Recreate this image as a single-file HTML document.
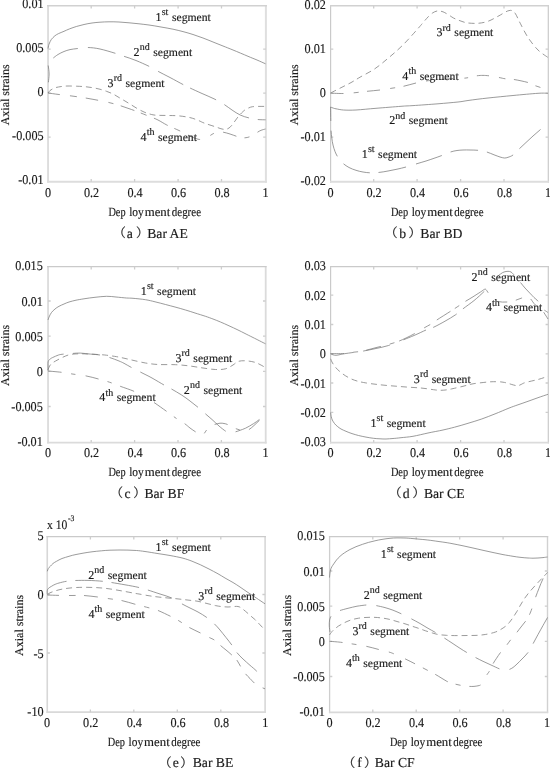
<!DOCTYPE html>
<html><head><meta charset="utf-8"><title>Axial strains</title>
<style>
html,body{margin:0;padding:0;background:#fff;}
svg{display:block;}
text{text-rendering:geometricPrecision;font-family:"Liberation Serif","Noto Serif CJK SC",serif;fill:#1a1a1a;stroke:#1a1a1a;stroke-width:0.15px;}
.t{font-size:12px;}
.n{font-size:13.4px;}
.s{font-size:10px;}
.c{font-size:13.7px;}
.k{font-size:12.5px;}
.e{font-size:8.5px;}
.g{font-size:11.7px;}
.ax{stroke:#b4b4b4;stroke-width:1;fill:none;}
.cv{stroke:#7a7a7a;stroke-width:0.75;fill:none;}
</style></head><body>
<svg width="550" height="768" viewBox="0 0 550 768">
<rect width="550" height="768" fill="#fff"/>
<g>
<path d="M48.05 5.00V182.75" stroke="#dddddd" stroke-width="1.9" fill="none"/>
<path d="M265.90 5.00V182.75" stroke="#dfdfdf" stroke-width="2.0" fill="none"/>
<path d="M47.10 5.70H266.90" stroke="#d1d1d1" stroke-width="1.4" fill="none"/>
<path d="M47.10 181.80H266.90" stroke="#dddddd" stroke-width="1.9" fill="none"/>
<path d="M91.2 181.8v-2.7M91.2 5.7v2.7M134.6 181.8v-2.7M134.6 5.7v2.7M178.1 181.8v-2.7M178.1 5.7v2.7M221.5 181.8v-2.7M221.5 5.7v2.7M48.0 49.1h2.7M265.9 49.1h-2.7M48.0 93.1h2.7M265.9 93.1h-2.7M48.0 137.1h2.7M265.9 137.1h-2.7" stroke="#cdcdcd" stroke-width="1.3" fill="none"/>
<text class="n" transform="translate(43.6 8.3) scale(.91 1)" text-anchor="end">0.01</text>
<text class="n" transform="translate(43.6 52.3) scale(.91 1)" text-anchor="end">0.005</text>
<text class="n" transform="translate(43.6 96.3) scale(.91 1)" text-anchor="end">0</text>
<text class="n" transform="translate(43.6 140.3) scale(.91 1)" text-anchor="end">-0.005</text>
<text class="n" transform="translate(43.6 184.3) scale(.91 1)" text-anchor="end">-0.01</text>
<text class="n" transform="translate(48.0 196.6) scale(.91 1)" text-anchor="middle">0</text>
<text class="n" transform="translate(91.5 196.6) scale(.91 1)" text-anchor="middle">0.2</text>
<text class="n" transform="translate(135.0 196.6) scale(.91 1)" text-anchor="middle">0.4</text>
<text class="n" transform="translate(178.6 196.6) scale(.91 1)" text-anchor="middle">0.6</text>
<text class="n" transform="translate(222.1 196.6) scale(.91 1)" text-anchor="middle">0.8</text>
<text class="n" transform="translate(265.6 196.6) scale(.91 1)" text-anchor="middle">1</text>
<text style="font-size:12.6px" y="215.8"><tspan x="108.4" textLength="17.2" lengthAdjust="spacingAndGlyphs">Dep</tspan><tspan x="129.2" textLength="14.6" lengthAdjust="spacingAndGlyphs">loy</tspan><tspan x="144.7" textLength="25.6" lengthAdjust="spacingAndGlyphs">ment</tspan><tspan x="171.8" textLength="29.2" lengthAdjust="spacingAndGlyphs">degree</tspan></text>
<text class="t" transform="translate(8.8 94.8) rotate(-90)" text-anchor="middle">Axial strains</text>
<text y="237.5"><tspan class="k" x="113.3" dy="-0.6">（</tspan><tspan class="c" x="126.7" dy="0.6">a</tspan><tspan class="k" x="136.0" dy="-0.6">）</tspan><tspan class="c" x="147.2" dy="0.6">Bar AE</tspan></text>
<path class="cv" d="M48.0 48.5C48.1 48.0 48.4 46.4 48.6 45.5C48.9 44.6 49.0 44.0 49.5 43.0C50.0 42.0 50.4 40.7 51.3 39.5C52.2 38.3 53.7 36.8 54.9 35.8C56.1 34.8 57.0 34.4 58.5 33.6C60.0 32.9 62.2 32.1 64.0 31.3C65.8 30.5 67.4 29.7 69.5 28.9C71.6 28.1 74.3 27.1 76.7 26.4C79.1 25.7 81.5 25.1 84.0 24.5C86.5 23.9 89.3 23.4 92.0 23.0C94.7 22.6 97.2 22.4 100.0 22.2C102.8 22.0 105.8 21.8 109.0 21.8C112.2 21.8 115.7 21.8 119.0 22.0C122.3 22.2 125.7 22.5 129.0 22.8C132.3 23.1 135.7 23.4 139.0 23.8C142.3 24.2 145.3 24.5 149.0 25.0C152.7 25.5 157.0 26.3 161.0 27.0C165.0 27.7 169.3 28.4 173.0 29.2C176.7 30.0 179.7 30.7 183.0 31.6C186.3 32.5 189.7 33.4 193.0 34.5C196.3 35.6 199.7 36.8 203.0 38.0C206.3 39.2 209.7 40.7 213.0 42.0C216.3 43.3 219.7 44.7 223.0 46.0C226.3 47.3 228.8 48.3 233.0 50.0C237.2 51.7 244.0 54.6 248.0 56.3C252.0 58.0 254.1 58.8 257.0 60.0C259.9 61.2 264.1 63.2 265.5 63.8"/>
<path class="cv" d="M48.4 82.3C48.5 80.9 49.1 76.8 49.1 74.0C49.1 71.2 48.4 66.9 48.2 65.5"/>
<path class="cv" d="M53.3 58.0C54.1 57.4 56.2 55.6 58.0 54.5C59.8 53.4 62.0 52.3 64.0 51.5C66.0 50.7 67.7 50.1 70.0 49.6C72.3 49.1 74.8 48.9 77.8 48.5C80.8 48.1 84.1 47.4 87.8 47.5C91.5 47.6 95.4 48.0 100.0 49.0C104.6 50.0 111.3 52.1 115.3 53.3C119.3 54.5 120.5 55.1 124.0 56.3C127.5 57.5 131.8 58.8 136.0 60.5C140.2 62.2 145.3 64.5 149.0 66.3C152.7 68.1 154.5 69.4 158.0 71.3C161.5 73.2 165.8 75.3 170.0 77.5C174.2 79.7 179.7 82.8 183.0 84.5C186.3 86.2 186.8 86.5 190.0 88.0C193.2 89.5 198.0 91.7 202.0 93.5C206.0 95.3 210.3 97.0 214.0 98.8C217.7 100.6 221.2 102.6 224.2 104.5C227.2 106.4 229.3 108.2 232.0 110.0C234.7 111.8 237.4 113.7 240.2 115.0C243.0 116.3 246.0 117.2 248.9 117.9C251.8 118.7 254.8 119.2 257.6 119.5C260.4 119.8 264.3 119.8 265.6 119.8" stroke-dasharray="26.8 10.1 28.2 9.2 27.0 10.3 28.3 7.8 28.4 9.6 28.3 8.9 8.0 999.0" stroke-dashoffset="0"/>
<path class="cv" d="M48.0 93.0C48.3 92.6 49.2 91.2 50.0 90.5C50.8 89.8 51.8 89.3 52.8 88.8C53.8 88.3 54.5 87.9 56.0 87.5C57.5 87.1 59.5 86.8 61.5 86.5C63.5 86.2 65.5 86.0 68.0 86.0C70.5 86.0 73.8 86.1 76.5 86.2C79.2 86.3 81.5 86.4 84.0 86.6C86.5 86.8 89.0 87.1 91.5 87.5C94.0 87.9 96.5 88.4 99.0 89.0C101.5 89.6 104.2 90.5 106.5 91.3C108.8 92.1 110.9 93.0 113.0 94.0C115.1 95.0 117.0 96.3 119.0 97.5C121.0 98.7 122.9 99.8 125.0 101.0C127.1 102.2 129.3 103.7 131.5 105.0C133.7 106.3 135.9 107.8 138.0 109.0C140.1 110.2 142.2 111.2 144.0 112.0C145.8 112.8 147.3 113.3 149.0 113.8C150.7 114.3 152.0 114.7 154.0 115.0C156.0 115.3 158.5 115.3 161.0 115.4C163.5 115.5 166.2 115.4 169.0 115.5C171.8 115.6 174.5 115.5 178.0 115.8C181.5 116.1 186.7 116.8 190.0 117.6C193.3 118.3 195.6 119.4 198.0 120.3C200.4 121.2 201.5 122.1 204.5 123.2C207.5 124.3 213.1 126.0 216.0 127.0C218.9 128.0 220.3 128.6 222.0 129.0C223.7 129.4 224.8 129.5 226.0 129.3C227.2 129.1 228.0 128.7 229.0 128.0C230.0 127.3 231.2 126.1 232.2 124.9C233.2 123.7 234.0 122.3 235.0 121.0C236.0 119.7 236.9 118.2 238.0 116.9C239.1 115.6 240.3 114.2 241.5 113.0C242.7 111.8 244.1 110.5 245.3 109.6C246.6 108.7 247.8 108.3 249.0 107.8C250.2 107.3 251.0 106.9 252.5 106.7C254.0 106.5 255.8 106.5 258.0 106.4C260.2 106.4 264.3 106.4 265.6 106.4" stroke-dasharray="6 4" stroke-dashoffset="0"/>
<path class="cv" d="M48.0 93.0C49.8 93.2 54.7 94.0 59.0 94.5C63.3 95.0 68.2 95.5 74.0 96.3C79.8 97.1 87.3 98.2 94.0 99.5C100.7 100.8 107.8 102.1 114.0 103.8C120.2 105.5 125.7 107.4 131.5 109.5C137.3 111.6 144.6 114.5 149.0 116.3C153.4 118.0 155.0 118.5 158.0 120.0C161.0 121.5 163.3 123.2 166.8 125.0C170.3 126.8 175.8 129.0 179.0 130.5C182.2 132.0 183.8 132.9 186.0 134.0C188.2 135.1 190.0 136.1 192.0 137.0C194.0 137.9 196.3 138.8 198.0 139.2C199.7 139.6 200.7 139.5 202.0 139.3C203.3 139.1 204.6 138.7 206.0 138.0C207.4 137.3 209.1 136.2 210.4 135.4C211.7 134.6 212.6 133.9 214.0 133.3C215.4 132.7 217.5 132.2 219.0 132.0C220.5 131.8 221.4 131.9 223.2 132.2C225.0 132.5 227.8 133.3 230.0 134.0C232.2 134.7 234.7 135.7 236.5 136.3C238.3 136.9 239.6 137.2 241.0 137.5C242.4 137.8 243.6 137.9 245.0 137.8C246.4 137.7 248.1 137.4 249.6 136.8C251.1 136.2 252.7 135.3 254.0 134.5C255.3 133.7 256.4 132.9 257.6 132.2C258.8 131.5 259.7 130.8 261.0 130.3C262.3 129.8 264.8 129.2 265.6 129.0" stroke-dasharray="12.0 10.3 7.0 8.8 12.5 10.4 5.3 7.5 14.7 6.7 6.2 8.0 15.7 7.0 6.4 8.8 12.9 11.2 4.2 9.4 13.9 8.3 5.1 9.2 8.7 999.0" stroke-dashoffset="0"/>
<text class="t" x="155.6" y="21.0">1<tspan class="s" dx="0.1" dy="-5.7">st</tspan><tspan class="g" dx="0.6" dy="5.7"> segment</tspan></text>
<text class="t" x="133.6" y="56.0">2<tspan class="s" dx="0.1" dy="-5.7">nd</tspan><tspan class="g" dx="0.6" dy="5.7"> segment</tspan></text>
<text class="t" x="107.6" y="87.0">3<tspan class="s" dx="0.1" dy="-5.7">rd</tspan><tspan class="g" dx="0.6" dy="5.7"> segment</tspan></text>
<text class="t" x="140.6" y="141.0">4<tspan class="s" dx="0.1" dy="-5.7">th</tspan><tspan class="g" dx="0.6" dy="5.7"> segment</tspan></text>
</g>
<g>
<path d="M330.60 5.00V182.75" stroke="#cacaca" stroke-width="1.2" fill="none"/>
<path d="M548.30 5.00V182.75" stroke="#cacaca" stroke-width="1.2" fill="none"/>
<path d="M330.00 5.70H548.90" stroke="#d1d1d1" stroke-width="1.4" fill="none"/>
<path d="M330.00 181.80H548.90" stroke="#dddddd" stroke-width="1.9" fill="none"/>
<path d="M373.7 181.8v-2.7M373.7 5.7v2.7M417.1 181.8v-2.7M417.1 5.7v2.7M460.6 181.8v-2.7M460.6 5.7v2.7M504.0 181.8v-2.7M504.0 5.7v2.7M330.6 49.1h2.7M548.3 49.1h-2.7M330.6 93.1h2.7M548.3 93.1h-2.7M330.6 137.1h2.7M548.3 137.1h-2.7" stroke="#cdcdcd" stroke-width="1.3" fill="none"/>
<text class="n" transform="translate(325.9 8.6) scale(.91 1)" text-anchor="end">0.02</text>
<text class="n" transform="translate(325.9 52.6) scale(.91 1)" text-anchor="end">0.01</text>
<text class="n" transform="translate(325.9 96.6) scale(.91 1)" text-anchor="end">0</text>
<text class="n" transform="translate(325.9 140.6) scale(.91 1)" text-anchor="end">-0.01</text>
<text class="n" transform="translate(325.9 184.6) scale(.91 1)" text-anchor="end">-0.02</text>
<text class="n" transform="translate(330.6 196.6) scale(.91 1)" text-anchor="middle">0</text>
<text class="n" transform="translate(374.1 196.6) scale(.91 1)" text-anchor="middle">0.2</text>
<text class="n" transform="translate(417.6 196.6) scale(.91 1)" text-anchor="middle">0.4</text>
<text class="n" transform="translate(461.0 196.6) scale(.91 1)" text-anchor="middle">0.6</text>
<text class="n" transform="translate(504.5 196.6) scale(.91 1)" text-anchor="middle">0.8</text>
<text class="n" transform="translate(548.0 196.6) scale(.91 1)" text-anchor="middle">1</text>
<text style="font-size:12.6px" y="215.8"><tspan x="390.9" textLength="17.2" lengthAdjust="spacingAndGlyphs">Dep</tspan><tspan x="411.7" textLength="14.6" lengthAdjust="spacingAndGlyphs">loy</tspan><tspan x="427.2" textLength="25.6" lengthAdjust="spacingAndGlyphs">ment</tspan><tspan x="454.3" textLength="29.2" lengthAdjust="spacingAndGlyphs">degree</tspan></text>
<text class="t" transform="translate(297.8 94.8) rotate(-90)" text-anchor="middle">Axial strains</text>
<text y="237.5"><tspan class="k" x="385.1" dy="-0.6">（</tspan><tspan class="c" x="399.3" dy="0.6">b</tspan><tspan class="k" x="408.5" dy="-0.6">）</tspan><tspan class="c" x="420.3" dy="0.6">Bar BD</tspan></text>
<path class="cv" d="M330.6 107.0C331.0 107.2 332.1 107.7 333.0 108.0C333.9 108.3 334.2 108.5 336.0 108.8C337.8 109.1 340.2 109.8 343.5 110.0C346.8 110.2 350.6 110.3 356.0 110.0C361.4 109.7 368.5 108.9 376.0 108.3C383.5 107.7 394.8 106.8 401.0 106.3C407.2 105.8 406.8 106.0 413.0 105.6C419.2 105.2 430.5 104.4 438.0 103.8C445.5 103.2 453.0 102.5 458.0 102.0C463.0 101.5 463.0 101.2 468.0 100.5C473.0 99.8 480.5 98.8 488.0 98.0C495.5 97.2 504.7 96.3 513.0 95.5C521.3 94.7 532.2 93.7 538.0 93.3C543.8 92.9 546.3 93.3 548.0 93.3"/>
<path class="cv" d="M330.6 107.0C330.6 108.2 330.7 111.7 330.7 114.0C330.7 116.3 330.8 118.3 330.8 121.0C330.9 123.7 330.8 127.2 331.0 130.0C331.2 132.8 331.5 135.5 331.8 138.0C332.1 140.5 332.5 142.8 333.0 145.0C333.5 147.2 334.3 149.6 335.0 151.5C335.7 153.4 336.5 154.8 337.3 156.3C338.1 157.8 339.0 159.2 340.0 160.5C341.0 161.8 342.0 162.6 343.5 163.8C345.0 165.0 346.9 166.4 349.0 167.5C351.1 168.6 353.7 169.6 356.0 170.3C358.3 171.1 360.7 171.6 363.0 172.0C365.3 172.4 367.2 172.7 369.8 172.8C372.4 172.9 375.5 172.8 378.5 172.5C381.5 172.2 384.9 171.6 388.0 171.0C391.1 170.4 394.0 169.9 397.0 169.2C400.0 168.5 402.8 167.9 406.0 167.0C409.2 166.1 412.7 165.0 416.0 164.0C419.3 163.0 423.0 161.9 426.0 161.0C429.0 160.1 431.4 159.2 434.0 158.3C436.6 157.4 439.1 156.6 441.8 155.5C444.6 154.4 448.0 152.8 450.5 152.0C453.0 151.2 454.9 150.8 457.0 150.5C459.1 150.2 460.8 150.1 463.0 150.0C465.2 149.9 467.5 149.9 470.0 150.0C472.5 150.1 475.2 150.0 478.0 150.3C480.8 150.6 484.1 151.2 486.8 152.0C489.5 152.8 491.8 154.0 494.0 154.8C496.2 155.6 498.3 156.5 500.0 157.0C501.7 157.5 503.0 157.9 504.3 158.0C505.6 158.1 506.6 157.8 508.0 157.3C509.4 156.8 511.1 156.4 513.0 155.0C514.9 153.6 517.1 150.9 519.3 148.8C521.5 146.7 523.7 144.6 526.0 142.5C528.3 140.4 530.6 138.2 533.0 136.0C535.4 133.8 538.0 131.7 540.5 129.5C543.0 127.3 546.8 124.1 548.0 123.0" stroke-dasharray="14.0 9.6 26.7 9.8 28.2 8.7 28.1 10.4 27.2 9.4 27.7 9.0 27.9 8.8 28.7 999.0" stroke-dashoffset="0"/>
<path class="cv" d="M330.6 93.0C332.3 92.1 337.6 89.4 341.0 87.7C344.4 86.0 347.8 84.3 351.0 82.6C354.2 80.8 356.1 79.5 360.0 77.2C363.9 74.9 369.6 72.3 374.5 69.0C379.4 65.7 384.2 61.5 389.1 57.4C394.0 53.3 398.8 49.1 403.6 44.3C408.5 39.4 414.8 32.1 418.2 28.3C421.6 24.5 422.3 23.4 424.0 21.5C425.7 19.6 427.0 18.0 428.4 16.6C429.8 15.2 431.2 13.9 432.5 13.0C433.8 12.1 435.0 11.6 436.0 11.3C437.0 11.0 437.3 10.9 438.5 11.0C439.7 11.1 441.4 11.2 443.0 11.8C444.6 12.4 446.2 13.5 448.0 14.5C449.8 15.5 451.8 17.1 453.5 18.0C455.2 18.9 456.4 19.4 458.0 20.0C459.6 20.6 461.3 21.3 463.0 21.8C464.7 22.3 465.5 22.8 468.0 23.0C470.5 23.2 474.7 23.6 478.0 23.3C481.3 23.0 484.7 22.5 488.0 21.3C491.3 20.1 495.1 17.9 498.0 16.3C500.9 14.8 503.7 12.9 505.5 12.0C507.3 11.1 507.9 10.8 509.0 10.6C510.1 10.4 510.9 10.1 512.0 10.6C513.1 11.1 514.1 11.6 515.5 13.8C516.9 16.0 518.4 19.9 520.5 23.8C522.6 27.8 525.1 33.1 528.0 37.5C530.9 41.9 534.7 46.7 538.0 50.0C541.3 53.3 546.3 56.2 548.0 57.5" stroke-dasharray="6 4" stroke-dashoffset="0"/>
<path class="cv" d="M330.6 93.2C332.8 93.2 339.3 93.6 343.5 93.5C347.7 93.4 352.1 93.0 356.0 92.6C359.9 92.2 363.0 91.7 367.0 91.3C371.0 90.9 375.8 90.5 380.0 90.0C384.2 89.5 388.1 88.8 392.0 88.2C395.9 87.6 399.5 87.2 403.5 86.3C407.5 85.4 412.2 83.9 416.0 83.0C419.8 82.1 422.0 81.6 426.0 81.0C430.0 80.4 435.7 79.9 440.0 79.5C444.3 79.1 447.7 78.8 452.0 78.6C456.3 78.3 461.9 78.5 466.0 78.0C470.1 77.5 474.0 76.2 476.8 75.8C479.6 75.4 481.0 75.4 483.0 75.4C485.0 75.4 486.3 75.5 489.0 75.8C491.7 76.1 496.2 77.0 499.0 77.5C501.8 78.0 503.0 78.5 505.5 78.8C508.0 79.1 510.2 78.9 514.0 79.5C517.8 80.1 524.4 81.5 528.0 82.5C531.6 83.5 533.4 85.0 535.5 85.8C537.6 86.6 538.4 86.6 540.5 87.5C542.6 88.4 546.8 90.4 548.0 91.0" stroke-dasharray="12.9 10.1 5.1 8.4 13.1 10.2 5.1 8.5 12.9 10.2 5.4 8.6 13.4 11.0 3.8 9.0 12.2 10.1 6.6 8.5 14.3 8.2 5.3 999.0" stroke-dashoffset="0"/>
<text class="t" x="436.4" y="36.3">3<tspan class="s" dx="0.1" dy="-5.7">rd</tspan><tspan class="g" dx="0.6" dy="5.7"> segment</tspan></text>
<text class="t" x="402.3" y="79.5">4<tspan class="s" dx="0.1" dy="-5.7">th</tspan><tspan class="g" dx="0.6" dy="5.7"> segment</tspan></text>
<text class="t" x="389.2" y="124.3">2<tspan class="s" dx="0.1" dy="-5.7">nd</tspan><tspan class="g" dx="0.6" dy="5.7"> segment</tspan></text>
<text class="t" x="361.8" y="158.0">1<tspan class="s" dx="0.1" dy="-5.7">st</tspan><tspan class="g" dx="0.6" dy="5.7"> segment</tspan></text>
</g>
<g>
<path d="M48.05 266.10V443.55" stroke="#dddddd" stroke-width="1.9" fill="none"/>
<path d="M265.70 266.10V443.55" stroke="#dbdbdb" stroke-width="1.8" fill="none"/>
<path d="M47.10 266.70H266.60" stroke="#cacaca" stroke-width="1.2" fill="none"/>
<path d="M47.10 442.65H266.60" stroke="#dbdbdb" stroke-width="1.8" fill="none"/>
<path d="M91.2 442.6v-2.7M91.2 266.7v2.7M134.6 442.6v-2.7M134.6 266.7v2.7M178.0 442.6v-2.7M178.0 266.7v2.7M221.4 442.6v-2.7M221.4 266.7v2.7M48.0 301.0h2.7M265.7 301.0h-2.7M48.0 336.2h2.7M265.7 336.2h-2.7M48.0 371.3h2.7M265.7 371.3h-2.7M48.0 406.5h2.7M265.7 406.5h-2.7" stroke="#cdcdcd" stroke-width="1.3" fill="none"/>
<text class="n" transform="translate(42.8 270.4) scale(.91 1)" text-anchor="end">0.015</text>
<text class="n" transform="translate(42.8 305.5) scale(.91 1)" text-anchor="end">0.01</text>
<text class="n" transform="translate(42.8 340.7) scale(.91 1)" text-anchor="end">0.005</text>
<text class="n" transform="translate(42.8 375.8) scale(.91 1)" text-anchor="end">0</text>
<text class="n" transform="translate(42.8 411.0) scale(.91 1)" text-anchor="end">-0.005</text>
<text class="n" transform="translate(42.8 446.1) scale(.91 1)" text-anchor="end">-0.01</text>
<text class="n" transform="translate(48.0 457.1) scale(.91 1)" text-anchor="middle">0</text>
<text class="n" transform="translate(91.5 457.1) scale(.91 1)" text-anchor="middle">0.2</text>
<text class="n" transform="translate(135.0 457.1) scale(.91 1)" text-anchor="middle">0.4</text>
<text class="n" transform="translate(178.6 457.1) scale(.91 1)" text-anchor="middle">0.6</text>
<text class="n" transform="translate(222.1 457.1) scale(.91 1)" text-anchor="middle">0.8</text>
<text class="n" transform="translate(265.6 457.1) scale(.91 1)" text-anchor="middle">1</text>
<text style="font-size:12.6px" y="476.3"><tspan x="108.4" textLength="17.2" lengthAdjust="spacingAndGlyphs">Dep</tspan><tspan x="129.2" textLength="14.6" lengthAdjust="spacingAndGlyphs">loy</tspan><tspan x="144.7" textLength="25.6" lengthAdjust="spacingAndGlyphs">ment</tspan><tspan x="171.8" textLength="29.2" lengthAdjust="spacingAndGlyphs">degree</tspan></text>
<text class="t" transform="translate(8.8 355.4) rotate(-90)" text-anchor="middle">Axial strains</text>
<text y="498.0"><tspan class="k" x="110.6" dy="-0.6">（</tspan><tspan class="c" x="124.5" dy="0.6">c</tspan><tspan class="k" x="133.2" dy="-0.6">）</tspan><tspan class="c" x="144.4" dy="0.6">Bar BF</tspan></text>
<path class="cv" d="M48.0 320.0C48.2 319.3 48.9 317.2 49.5 316.0C50.1 314.8 50.6 313.7 51.5 312.5C52.4 311.3 53.8 310.0 55.0 309.0C56.2 308.0 57.5 307.1 59.0 306.3C60.5 305.5 62.3 304.7 64.0 304.0C65.7 303.3 67.0 302.6 69.0 302.0C71.0 301.4 73.5 300.7 76.0 300.2C78.5 299.7 80.8 299.3 84.0 298.8C87.2 298.3 91.2 297.7 95.0 297.3C98.8 296.9 103.0 296.4 106.5 296.3C110.0 296.2 112.7 296.7 116.0 297.0C119.3 297.3 123.7 297.8 126.5 298.0C129.3 298.2 129.8 298.0 133.0 298.3C136.2 298.6 141.8 299.1 145.5 299.7C149.2 300.3 151.7 301.0 155.0 301.8C158.3 302.6 162.2 303.6 165.5 304.5C168.8 305.4 171.7 306.1 175.0 307.0C178.3 307.9 182.2 309.0 185.5 310.0C188.8 311.0 191.7 311.9 195.0 313.0C198.3 314.1 202.5 315.3 205.5 316.3C208.5 317.3 210.5 318.1 213.0 319.0C215.5 319.9 217.8 320.9 220.5 322.0C223.2 323.1 226.1 324.5 229.0 325.8C231.9 327.1 235.3 328.7 238.0 330.0C240.7 331.3 242.5 332.2 245.0 333.5C247.5 334.8 249.6 335.8 253.0 337.5C256.4 339.2 263.4 342.8 265.5 343.8"/>
<path class="cv" d="M48.0 370.5C48.0 369.8 48.0 367.4 48.0 366.0C48.0 364.6 47.8 362.9 48.1 361.8C48.4 360.7 49.0 360.0 49.8 359.3C50.6 358.6 51.2 358.2 52.7 357.5C54.2 356.8 56.7 355.6 58.5 355.0C60.3 354.4 61.2 354.4 63.6 354.1C66.0 353.8 70.2 353.6 73.0 353.4C75.8 353.2 77.5 353.0 80.4 353.1C83.3 353.2 87.2 353.8 90.5 354.1C93.8 354.4 96.8 354.4 100.0 355.0C103.2 355.6 106.3 356.5 109.5 357.5C112.7 358.5 116.6 360.0 119.0 361.0C121.4 362.0 121.9 362.2 124.0 363.3C126.1 364.4 128.8 366.1 131.5 367.5C134.2 368.9 136.9 370.2 140.3 372.0C143.7 373.8 148.1 375.8 152.0 378.0C155.9 380.2 160.8 383.2 164.0 385.0C167.2 386.8 168.6 387.3 171.5 389.0C174.4 390.7 178.5 393.0 181.6 395.0C184.7 397.0 187.3 398.9 190.0 401.0C192.7 403.1 195.4 405.2 198.0 407.3C200.6 409.4 203.1 411.8 205.4 413.8C207.7 415.8 209.7 417.5 212.0 419.5C214.3 421.5 216.7 424.0 219.0 426.0C221.3 428.0 224.0 430.1 225.8 431.3C227.6 432.5 228.4 432.9 230.0 433.0C231.6 433.1 233.9 432.2 235.6 431.8C237.3 431.4 238.3 430.9 240.0 430.3C241.7 429.7 243.2 429.3 245.5 428.2C247.8 427.1 251.3 425.1 253.6 423.6C255.9 422.2 257.4 421.0 259.4 419.5C261.4 418.0 264.5 415.3 265.5 414.5" stroke-dasharray="26.7 9.4 27.1 9.8 24.2 9.9 27.0 8.5 32.3 9.8 26.9 10.3 27.0 999.0" stroke-dashoffset="0"/>
<path class="cv" d="M48.0 369.8C48.4 368.9 49.2 366.2 50.5 364.7C51.8 363.2 53.5 362.2 55.6 361.0C57.7 359.8 60.5 358.3 62.9 357.2C65.3 356.1 67.5 355.1 70.2 354.5C72.9 353.9 76.1 353.9 79.0 353.8C81.9 353.7 84.5 353.9 87.6 354.0C90.7 354.1 94.6 354.3 97.8 354.5C101.0 354.7 103.3 354.8 106.5 355.2C109.7 355.6 113.8 356.2 116.7 356.7C119.6 357.2 121.3 357.6 124.0 358.2C126.7 358.8 129.4 359.5 133.0 360.3C136.6 361.1 141.3 362.3 145.5 363.0C149.7 363.7 153.0 364.2 158.0 364.5C163.0 364.8 170.2 364.4 175.5 364.7C180.8 364.9 185.4 365.4 190.0 366.0C194.6 366.6 198.8 367.4 203.0 368.0C207.2 368.6 211.8 369.4 215.5 369.5C219.2 369.6 222.6 369.6 225.5 368.8C228.4 368.1 230.9 366.2 233.0 365.0C235.1 363.8 235.9 362.2 238.0 361.5C240.1 360.8 242.6 360.6 245.5 360.8C248.4 361.0 252.2 361.4 255.5 362.5C258.8 363.6 263.8 366.7 265.5 367.5" stroke-dasharray="6 4" stroke-dashoffset="0"/>
<path class="cv" d="M48.0 371.0C50.2 371.2 57.3 371.8 61.5 372.3C65.7 372.8 69.0 373.5 73.0 374.1C77.0 374.7 81.2 375.0 85.5 375.8C89.8 376.6 94.5 377.9 98.5 379.0C102.5 380.1 105.9 381.0 109.5 382.2C113.1 383.4 116.2 384.8 120.3 386.3C124.4 387.8 130.1 389.6 134.0 391.3C137.9 393.0 140.7 394.6 144.0 396.5C147.3 398.4 150.2 400.0 154.0 402.5C157.8 405.0 163.0 408.8 166.5 411.3C170.0 413.8 172.0 415.4 175.0 417.5C178.0 419.6 182.1 421.9 184.6 423.6C187.1 425.4 188.2 426.6 190.0 428.0C191.8 429.4 194.0 430.8 195.5 431.8C197.0 432.8 197.9 433.4 199.0 433.8C200.1 434.2 201.1 434.2 202.0 434.2C202.9 434.1 203.4 434.2 204.2 433.5C204.9 432.8 205.5 431.3 206.5 430.2C207.5 429.1 208.7 427.9 210.0 427.0C211.3 426.1 212.7 425.1 214.4 424.5C216.1 423.9 218.4 423.4 220.0 423.2C221.6 423.0 222.8 423.3 224.0 423.5C225.2 423.7 226.2 423.9 227.5 424.5C228.8 425.1 230.7 426.3 232.0 427.0C233.3 427.7 234.3 428.1 235.6 428.6C236.9 429.1 238.3 429.5 239.7 429.9C241.1 430.3 242.5 430.8 244.0 430.8C245.5 430.8 247.0 430.6 248.7 429.7C250.4 428.8 252.2 427.1 254.0 425.5C255.8 423.9 257.5 422.2 259.4 420.4C261.3 418.6 264.5 415.5 265.5 414.5" stroke-dasharray="13.6 9.7 4.4 10.2 13.4 9.2 4.5 8.9 15.0 9.0 4.5 9.4 15.3 9.1 3.3 9.5 13.7 9.5 4.0 9.8 13.4 9.1 4.3 9.3 14.2 999.0" stroke-dashoffset="0"/>
<text class="t" x="140.8" y="294.5">1<tspan class="s" dx="0.1" dy="-5.7">st</tspan><tspan class="g" dx="0.6" dy="5.7"> segment</tspan></text>
<text class="t" x="175.4" y="361.5">3<tspan class="s" dx="0.1" dy="-5.7">rd</tspan><tspan class="g" dx="0.6" dy="5.7"> segment</tspan></text>
<text class="t" x="183.8" y="393.5">2<tspan class="s" dx="0.1" dy="-5.7">nd</tspan><tspan class="g" dx="0.6" dy="5.7"> segment</tspan></text>
<text class="t" x="99.3" y="401.3">4<tspan class="s" dx="0.1" dy="-5.7">th</tspan><tspan class="g" dx="0.6" dy="5.7"> segment</tspan></text>
</g>
<g>
<path d="M330.60 266.10V443.55" stroke="#cacaca" stroke-width="1.2" fill="none"/>
<path d="M548.30 266.10V443.55" stroke="#cacaca" stroke-width="1.2" fill="none"/>
<path d="M330.00 266.70H548.90" stroke="#cacaca" stroke-width="1.2" fill="none"/>
<path d="M330.00 442.65H548.90" stroke="#dbdbdb" stroke-width="1.8" fill="none"/>
<path d="M373.7 442.6v-2.7M373.7 266.7v2.7M417.1 442.6v-2.7M417.1 266.7v2.7M460.6 442.6v-2.7M460.6 266.7v2.7M504.0 442.6v-2.7M504.0 266.7v2.7M330.6 295.2h2.7M548.3 295.2h-2.7M330.6 324.5h2.7M548.3 324.5h-2.7M330.6 353.8h2.7M548.3 353.8h-2.7M330.6 383.0h2.7M548.3 383.0h-2.7M330.6 412.3h2.7M548.3 412.3h-2.7" stroke="#cdcdcd" stroke-width="1.3" fill="none"/>
<text class="n" transform="translate(325.9 270.4) scale(.91 1)" text-anchor="end">0.03</text>
<text class="n" transform="translate(325.9 299.7) scale(.91 1)" text-anchor="end">0.02</text>
<text class="n" transform="translate(325.9 329.0) scale(.91 1)" text-anchor="end">0.01</text>
<text class="n" transform="translate(325.9 358.2) scale(.91 1)" text-anchor="end">0</text>
<text class="n" transform="translate(325.9 387.5) scale(.91 1)" text-anchor="end">-0.01</text>
<text class="n" transform="translate(325.9 416.8) scale(.91 1)" text-anchor="end">-0.02</text>
<text class="n" transform="translate(325.9 446.1) scale(.91 1)" text-anchor="end">-0.03</text>
<text class="n" transform="translate(330.6 457.1) scale(.91 1)" text-anchor="middle">0</text>
<text class="n" transform="translate(374.1 457.1) scale(.91 1)" text-anchor="middle">0.2</text>
<text class="n" transform="translate(417.6 457.1) scale(.91 1)" text-anchor="middle">0.4</text>
<text class="n" transform="translate(461.0 457.1) scale(.91 1)" text-anchor="middle">0.6</text>
<text class="n" transform="translate(504.5 457.1) scale(.91 1)" text-anchor="middle">0.8</text>
<text class="n" transform="translate(548.0 457.1) scale(.91 1)" text-anchor="middle">1</text>
<text style="font-size:12.6px" y="476.3"><tspan x="390.9" textLength="17.2" lengthAdjust="spacingAndGlyphs">Dep</tspan><tspan x="411.7" textLength="14.6" lengthAdjust="spacingAndGlyphs">loy</tspan><tspan x="427.2" textLength="25.6" lengthAdjust="spacingAndGlyphs">ment</tspan><tspan x="454.3" textLength="29.2" lengthAdjust="spacingAndGlyphs">degree</tspan></text>
<text class="t" transform="translate(297.8 355.4) rotate(-90)" text-anchor="middle">Axial strains</text>
<text y="498.0"><tspan class="k" x="389.0" dy="-0.6">（</tspan><tspan class="c" x="402.7" dy="0.6">d</tspan><tspan class="k" x="412.4" dy="-0.6">）</tspan><tspan class="c" x="423.9" dy="0.6">Bar CE</tspan></text>
<path class="cv" d="M330.6 412.5C330.7 413.2 330.9 415.2 331.2 416.5C331.5 417.8 331.8 418.8 332.3 420.0C332.9 421.2 333.7 422.4 334.5 423.5C335.3 424.6 336.2 425.4 337.3 426.3C338.4 427.2 339.6 428.2 341.0 429.0C342.4 429.8 344.2 430.5 346.0 431.3C347.8 432.1 349.9 432.9 352.0 433.6C354.1 434.3 356.2 434.9 358.5 435.5C360.8 436.1 363.5 436.6 366.0 437.1C368.5 437.6 371.2 438.0 373.5 438.3C375.8 438.6 377.9 438.7 380.0 438.8C382.1 438.9 383.8 439.1 386.0 439.0C388.2 438.9 390.5 438.7 393.0 438.5C395.5 438.3 397.7 438.1 401.0 437.7C404.3 437.3 408.5 437.1 413.0 436.3C417.5 435.5 423.0 434.1 428.0 433.0C433.0 431.9 438.6 431.0 443.0 430.0C447.4 429.0 450.3 428.3 454.5 427.2C458.7 426.1 463.5 424.7 468.0 423.3C472.5 421.9 477.2 420.6 481.7 419.0C486.2 417.4 490.4 415.7 495.0 413.9C499.6 412.1 505.2 409.6 509.0 408.1C512.8 406.6 514.8 405.9 518.0 404.8C521.2 403.7 524.7 402.5 528.0 401.3C531.3 400.1 534.7 398.9 538.0 397.7C541.3 396.5 546.3 394.9 548.0 394.3"/>
<path class="cv" d="M330.6 353.8C331.0 354.0 332.1 354.6 333.0 354.8C333.9 355.1 334.8 355.3 336.0 355.3C337.2 355.3 338.7 354.9 340.0 354.6C341.3 354.4 341.7 354.2 344.0 353.8C346.3 353.4 350.4 352.9 353.6 352.4C356.9 351.9 359.8 351.6 363.5 351.0C367.2 350.4 371.8 349.4 376.0 348.5C380.2 347.6 383.9 346.9 388.5 345.5C393.1 344.1 399.2 341.5 403.5 339.8C407.8 338.1 410.2 337.1 414.0 335.5C417.8 333.9 422.8 331.4 426.0 330.0C429.2 328.6 430.3 328.8 433.5 327.3C436.7 325.8 441.3 323.3 445.0 321.2C448.7 319.1 452.5 316.9 455.5 314.8C458.5 312.7 459.9 311.2 463.0 308.8C466.1 306.4 470.4 303.5 474.0 300.6C477.6 297.7 481.6 293.9 484.3 291.3C487.0 288.7 488.2 287.1 490.0 285.0C491.8 282.9 493.2 280.3 495.0 278.5C496.8 276.7 499.0 275.1 500.5 274.0C502.0 272.9 502.8 272.4 504.0 272.0C505.2 271.6 506.8 271.3 508.0 271.3C509.2 271.3 510.2 271.6 511.0 272.0C511.8 272.4 512.1 272.9 513.0 273.8C513.9 274.7 515.2 276.1 516.5 277.5C517.8 278.9 519.1 280.8 520.5 282.5C521.9 284.2 523.3 286.1 525.0 288.0C526.7 289.9 529.0 292.2 530.5 293.8C532.0 295.4 532.8 296.2 534.0 297.5C535.2 298.8 536.5 299.1 538.0 301.3C539.5 303.6 541.3 308.1 543.0 311.0C544.7 313.9 547.2 317.7 548.0 319.0" stroke-dasharray="23.5 9.6 27.5 14.6 24.5 7.6 27.0 8.2 27.6 19.5 19.9 9.9 25.7 12.3 8.0 999.0" stroke-dashoffset="0"/>
<path class="cv" d="M330.6 358.8C330.9 359.5 331.8 361.8 332.5 363.0C333.2 364.2 334.0 365.2 334.8 366.3C335.6 367.4 336.5 368.5 337.5 369.5C338.5 370.5 339.7 371.4 341.0 372.5C342.3 373.6 343.8 374.8 345.5 375.8C347.2 376.9 349.1 377.9 351.0 378.8C352.9 379.7 354.9 380.4 357.0 381.0C359.1 381.6 360.3 381.9 363.5 382.5C366.7 383.1 371.4 383.8 376.0 384.3C380.6 384.9 386.0 385.4 391.0 385.8C396.0 386.2 401.0 386.6 406.0 387.0C411.0 387.4 416.4 387.6 421.0 388.0C425.6 388.4 430.2 389.3 433.5 389.7C436.8 390.1 438.2 390.3 440.5 390.3C442.8 390.3 444.9 390.1 447.0 389.8C449.1 389.5 450.3 389.2 453.0 388.6C455.7 388.0 459.7 387.1 463.0 386.3C466.3 385.5 468.8 384.5 473.0 383.8C477.2 383.1 484.0 382.4 488.0 382.0C492.0 381.6 494.5 381.7 497.0 381.7C499.5 381.7 501.2 381.9 503.0 382.2C504.8 382.4 506.0 382.8 507.5 383.2C509.0 383.6 510.4 384.1 511.8 384.5C513.2 384.9 514.9 385.4 516.0 385.6C517.1 385.8 517.7 385.8 518.5 385.6C519.3 385.4 519.8 385.0 521.0 384.5C522.2 384.0 522.7 383.3 525.5 382.5C528.3 381.7 534.2 380.5 538.0 379.5C541.8 378.5 546.3 376.8 548.0 376.3" stroke-dasharray="6 4" stroke-dashoffset="0"/>
<path class="cv" d="M330.6 353.6C332.8 353.6 340.2 353.7 344.0 353.5C347.8 353.3 350.4 352.6 353.6 352.2C356.8 351.8 359.3 351.8 363.0 351.0C366.7 350.2 371.8 348.7 376.0 347.6C380.2 346.5 384.8 345.6 388.5 344.5C392.2 343.4 395.6 342.4 398.5 341.3C401.4 340.2 403.3 339.3 406.0 338.0C408.7 336.7 411.8 335.2 414.8 333.5C417.9 331.8 421.5 329.4 424.3 327.8C427.1 326.2 429.7 324.9 431.8 323.6C433.9 322.3 433.7 322.1 436.8 320.0C439.9 317.9 446.8 313.7 450.5 311.3C454.2 308.9 456.8 307.2 459.3 305.5C461.8 303.8 463.2 302.8 465.5 301.3C467.8 299.9 470.5 298.4 473.0 296.8C475.5 295.2 478.6 293.2 480.5 292.0C482.4 290.8 483.6 289.7 484.5 289.3C485.4 288.9 485.4 289.1 486.0 289.6C486.6 290.1 487.0 291.1 488.0 292.5C489.0 293.9 490.3 296.5 492.0 298.0C493.7 299.5 495.5 300.8 498.0 301.5C500.5 302.2 504.1 302.2 507.0 302.0C509.9 301.8 513.0 301.0 515.5 300.3C518.0 299.6 519.9 298.5 521.8 298.0C523.7 297.5 525.5 297.4 527.0 297.5C528.5 297.6 529.1 297.6 530.5 298.8C531.9 300.1 533.2 303.1 535.5 305.0C537.8 306.9 541.9 308.8 544.0 310.0C546.1 311.2 547.3 312.1 548.0 312.5" stroke-dasharray="13.4 9.4 4.8 8.3 15.0 9.2 4.7 5.2 17.5 10.7 6.9 8.2 16.2 5.1 5.4 7.5 28.1 13.5 9.0 8.7 6.7 9.1 8.0 9.9 4.7 999.0" stroke-dashoffset="0"/>
<text class="t" x="471.6" y="280.5">2<tspan class="s" dx="0.1" dy="-5.7">nd</tspan><tspan class="g" dx="0.6" dy="5.7"> segment</tspan></text>
<text class="t" x="486.0" y="311.3">4<tspan class="s" dx="0.1" dy="-5.7">th</tspan><tspan class="g" dx="0.6" dy="5.7"> segment</tspan></text>
<text class="t" x="413.8" y="382.5">3<tspan class="s" dx="0.1" dy="-5.7">rd</tspan><tspan class="g" dx="0.6" dy="5.7"> segment</tspan></text>
<text class="t" x="370.4" y="427.0">1<tspan class="s" dx="0.1" dy="-5.7">st</tspan><tspan class="g" dx="0.6" dy="5.7"> segment</tspan></text>
</g>
<g>
<path d="M47.25 536.10V713.05" stroke="#d7d7d7" stroke-width="1.6" fill="none"/>
<path d="M265.10 536.10V713.05" stroke="#d7d7d7" stroke-width="1.6" fill="none"/>
<path d="M46.45 536.70H265.90" stroke="#cacaca" stroke-width="1.2" fill="none"/>
<path d="M46.45 712.20H265.90" stroke="#d9d9d9" stroke-width="1.7" fill="none"/>
<path d="M90.4 712.2v-2.7M90.4 536.7v2.7M133.8 712.2v-2.7M133.8 536.7v2.7M177.3 712.2v-2.7M177.3 536.7v2.7M220.8 712.2v-2.7M220.8 536.7v2.7M47.2 594.5h2.7M265.1 594.5h-2.7M47.2 653.0h2.7M265.1 653.0h-2.7" stroke="#cdcdcd" stroke-width="1.3" fill="none"/>
<text class="n" transform="translate(43.6 540.4) scale(.91 1)" text-anchor="end">5</text>
<text class="n" transform="translate(43.6 599.0) scale(.91 1)" text-anchor="end">0</text>
<text class="n" transform="translate(43.6 657.5) scale(.91 1)" text-anchor="end">-5</text>
<text class="n" transform="translate(43.6 716.1) scale(.91 1)" text-anchor="end">-10</text>
<text class="n" transform="translate(47.1 727.1) scale(.91 1)" text-anchor="middle">0</text>
<text class="n" transform="translate(90.7 727.1) scale(.91 1)" text-anchor="middle">0.2</text>
<text class="n" transform="translate(134.3 727.1) scale(.91 1)" text-anchor="middle">0.4</text>
<text class="n" transform="translate(178.0 727.1) scale(.91 1)" text-anchor="middle">0.6</text>
<text class="n" transform="translate(221.6 727.1) scale(.91 1)" text-anchor="middle">0.8</text>
<text class="n" transform="translate(265.2 727.1) scale(.91 1)" text-anchor="middle">1</text>
<text style="font-size:12.6px" y="746.3"><tspan x="107.8" textLength="17.2" lengthAdjust="spacingAndGlyphs">Dep</tspan><tspan x="128.6" textLength="14.6" lengthAdjust="spacingAndGlyphs">loy</tspan><tspan x="144.1" textLength="25.6" lengthAdjust="spacingAndGlyphs">ment</tspan><tspan x="171.2" textLength="29.2" lengthAdjust="spacingAndGlyphs">degree</tspan></text>
<text class="t" transform="translate(23.4 625.4) rotate(-90)" text-anchor="middle">Axial strains</text>
<text y="767.1"><tspan class="k" x="159.0" dy="-0.6">（</tspan><tspan class="c" x="172.7" dy="0.6">e</tspan><tspan class="k" x="180.2" dy="-0.6">）</tspan><tspan class="c" x="192.7" dy="0.6">Bar BE</tspan></text>
<text style="font-size:13px" x="47.0" y="529.0" textLength="20.3" lengthAdjust="spacingAndGlyphs">x 10</text>
<text class="e" x="68.0" y="521.0" textLength="6.4" lengthAdjust="spacingAndGlyphs">-3</text>
<path class="cv" d="M47.3 571.3C47.5 570.8 47.8 569.3 48.3 568.5C48.8 567.7 49.5 567.1 50.3 566.3C51.1 565.5 52.0 564.3 53.0 563.5C54.0 562.7 55.0 562.1 56.5 561.3C58.0 560.5 59.9 559.3 62.0 558.5C64.1 557.7 66.7 557.0 69.0 556.3C71.3 555.6 73.5 555.0 76.0 554.5C78.5 554.0 81.3 553.5 84.0 553.0C86.7 552.5 89.1 552.2 92.0 551.8C94.9 551.4 98.5 551.1 101.5 550.8C104.5 550.5 107.1 550.3 110.0 550.2C112.9 550.1 116.0 550.0 119.0 550.0C122.0 550.0 125.1 550.0 128.0 550.1C130.9 550.2 133.7 550.3 136.5 550.5C139.3 550.7 141.4 551.0 145.0 551.5C148.6 552.0 153.8 552.9 158.0 553.6C162.2 554.3 165.8 554.7 170.0 555.5C174.2 556.3 179.3 557.2 183.0 558.2C186.7 559.2 189.1 560.1 192.0 561.2C194.9 562.3 197.7 563.5 200.5 564.8C203.3 566.1 206.1 567.5 209.0 569.0C211.9 570.5 215.3 572.3 218.0 573.8C220.7 575.3 222.5 576.5 225.0 578.0C227.5 579.5 230.5 581.0 233.0 582.5C235.5 584.0 237.5 585.3 240.0 587.0C242.5 588.7 245.3 590.7 248.0 592.5C250.7 594.3 253.2 595.9 256.0 597.8C258.8 599.7 263.5 602.8 265.0 603.8"/>
<path class="cv" d="M47.3 594.0C47.3 593.4 47.1 591.5 47.3 590.5C47.5 589.5 47.8 589.0 48.5 588.3C49.2 587.6 50.4 586.9 51.5 586.3C52.6 585.6 53.8 584.9 55.0 584.4C56.2 583.9 57.1 583.5 59.0 583.0C60.9 582.5 63.8 581.7 66.5 581.3C69.2 580.9 71.7 580.6 75.3 580.5C78.9 580.4 83.4 580.3 88.0 580.4C92.6 580.5 98.9 580.9 102.8 581.3C106.7 581.6 107.8 581.9 111.5 582.5C115.2 583.1 120.4 584.0 125.0 584.8C129.6 585.6 135.2 586.6 139.0 587.5C142.8 588.4 144.3 588.9 147.8 590.0C151.3 591.1 156.0 592.7 160.0 594.0C164.0 595.3 168.2 596.4 171.8 598.0C175.4 599.6 178.8 602.1 181.8 603.8C184.8 605.5 187.3 606.6 190.0 608.0C192.7 609.4 195.2 610.4 198.0 612.0C200.8 613.6 204.1 615.5 206.8 617.5C209.5 619.5 212.1 621.7 214.3 623.8C216.5 625.9 218.1 627.7 220.0 630.0C221.9 632.3 224.0 635.0 226.0 637.5C228.0 640.0 230.0 642.5 231.8 645.0C233.6 647.5 234.9 650.2 236.8 652.5C238.7 654.8 240.8 656.9 243.0 659.0C245.2 661.1 247.7 663.2 250.0 665.3C252.3 667.3 254.3 668.8 256.8 671.3C259.3 673.8 263.6 678.5 265.0 680.0" stroke-dasharray="25.6 8.8 27.5 8.8 28.0 9.2 25.3 11.6 28.5 9.8 27.5 9.0 27.5 999.0" stroke-dashoffset="0"/>
<path class="cv" d="M47.3 594.5C47.8 594.2 48.9 593.3 50.0 592.8C51.1 592.3 52.5 591.8 54.0 591.3C55.5 590.8 57.3 590.2 59.0 589.8C60.7 589.4 62.2 589.1 64.0 588.8C65.8 588.5 67.9 588.2 70.0 588.0C72.1 587.8 74.0 587.6 76.5 587.5C79.0 587.4 82.1 587.3 85.0 587.3C87.9 587.3 91.2 587.4 94.0 587.5C96.8 587.6 99.5 587.8 102.0 588.0C104.5 588.2 106.7 588.5 109.0 588.8C111.3 589.1 113.5 589.5 116.0 589.9C118.5 590.3 121.2 590.8 124.0 591.3C126.8 591.8 130.5 592.5 133.0 593.0C135.5 593.5 136.5 593.6 139.0 594.0C141.5 594.4 145.5 595.2 148.0 595.6C150.5 596.0 151.8 596.2 154.0 596.5C156.2 596.8 158.7 597.0 161.0 597.3C163.3 597.5 165.5 597.8 168.0 598.0C170.5 598.2 173.5 598.5 176.0 598.7C178.5 599.0 180.7 599.2 183.0 599.5C185.3 599.8 187.5 600.0 190.0 600.3C192.5 600.6 195.2 600.8 198.0 601.3C200.8 601.8 204.1 602.8 207.0 603.5C209.9 604.2 213.0 605.1 215.5 605.6C218.0 606.1 219.9 606.4 222.0 606.6C224.1 606.8 226.0 607.0 228.0 607.0C230.0 607.0 232.3 606.6 234.0 606.5C235.7 606.4 236.8 606.3 238.0 606.5C239.2 606.7 239.8 607.0 241.0 607.8C242.2 608.6 244.0 610.0 245.5 611.3C247.0 612.5 248.3 613.8 250.0 615.3C251.7 616.8 253.8 618.4 255.5 620.0C257.2 621.6 258.4 623.1 260.0 624.8C261.6 626.5 264.2 629.1 265.0 630.0" stroke-dasharray="6 4" stroke-dashoffset="0"/>
<path class="cv" d="M47.3 595.0C49.2 595.1 54.9 595.3 59.0 595.4C63.1 595.5 67.8 595.5 72.0 595.5C76.2 595.5 79.7 595.2 84.0 595.5C88.3 595.8 93.6 596.5 97.8 597.0C102.0 597.5 105.0 598.1 109.0 598.7C113.0 599.3 117.1 599.6 121.5 600.5C125.9 601.4 131.1 603.2 135.3 604.3C139.5 605.4 142.9 606.2 146.5 607.2C150.1 608.2 152.8 608.5 156.8 610.0C160.8 611.5 166.6 614.4 170.5 616.3C174.4 618.2 176.9 619.6 180.0 621.5C183.1 623.4 185.9 625.6 189.3 627.5C192.7 629.4 197.2 631.3 200.5 633.0C203.8 634.7 207.0 636.3 209.3 637.5C211.6 638.7 212.4 638.7 214.3 640.0C216.2 641.3 218.6 643.8 220.5 645.5C222.4 647.2 224.1 648.4 226.0 650.0C227.9 651.6 230.0 653.3 231.8 655.0C233.6 656.7 235.4 658.1 236.8 660.0C238.2 661.9 239.1 664.0 240.5 666.3C241.9 668.6 243.9 671.8 245.5 673.8C247.1 675.8 248.5 677.0 250.0 678.5C251.5 680.0 252.7 681.7 254.3 683.0C255.9 684.3 257.7 685.5 259.5 686.5C261.3 687.5 264.1 688.4 265.0 688.8" stroke-dasharray="11.7 10.0 6.6 8.4 13.9 10.2 5.2 8.6 14.3 9.0 5.4 9.2 13.7 8.7 4.3 8.9 12.5 9.9 5.6 8.3 14.8 7.1 7.3 9.0 12.7 9.6 2.6 999.0" stroke-dashoffset="0"/>
<text class="t" x="155.6" y="550.5">1<tspan class="s" dx="0.1" dy="-5.7">st</tspan><tspan class="g" dx="0.6" dy="5.7"> segment</tspan></text>
<text class="t" x="88.2" y="578.8">2<tspan class="s" dx="0.1" dy="-5.7">nd</tspan><tspan class="g" dx="0.6" dy="5.7"> segment</tspan></text>
<text class="t" x="198.3" y="600.0">3<tspan class="s" dx="0.1" dy="-5.7">rd</tspan><tspan class="g" dx="0.6" dy="5.7"> segment</tspan></text>
<text class="t" x="88.4" y="617.5">4<tspan class="s" dx="0.1" dy="-5.7">th</tspan><tspan class="g" dx="0.6" dy="5.7"> segment</tspan></text>
</g>
<g>
<path d="M329.60 536.10V713.15" stroke="#cecece" stroke-width="1.3" fill="none"/>
<path d="M547.50 536.10V713.15" stroke="#d1d1d1" stroke-width="1.4" fill="none"/>
<path d="M328.95 536.70H548.20" stroke="#cacaca" stroke-width="1.2" fill="none"/>
<path d="M328.95 712.30H548.20" stroke="#d9d9d9" stroke-width="1.7" fill="none"/>
<path d="M372.8 712.3v-2.7M372.8 536.7v2.7M416.2 712.3v-2.7M416.2 536.7v2.7M459.7 712.3v-2.7M459.7 536.7v2.7M503.1 712.3v-2.7M503.1 536.7v2.7M329.6 571.0h2.7M547.5 571.0h-2.7M329.6 606.2h2.7M547.5 606.2h-2.7M329.6 641.3h2.7M547.5 641.3h-2.7M329.6 676.5h2.7M547.5 676.5h-2.7" stroke="#cdcdcd" stroke-width="1.3" fill="none"/>
<text class="n" transform="translate(324.8 540.4) scale(.91 1)" text-anchor="end">0.015</text>
<text class="n" transform="translate(324.8 575.5) scale(.91 1)" text-anchor="end">0.01</text>
<text class="n" transform="translate(324.8 610.7) scale(.91 1)" text-anchor="end">0.005</text>
<text class="n" transform="translate(324.8 645.8) scale(.91 1)" text-anchor="end">0</text>
<text class="n" transform="translate(324.8 681.0) scale(.91 1)" text-anchor="end">-0.005</text>
<text class="n" transform="translate(324.8 716.1) scale(.91 1)" text-anchor="end">-0.01</text>
<text class="n" transform="translate(329.5 727.1) scale(.91 1)" text-anchor="middle">0</text>
<text class="n" transform="translate(373.0 727.1) scale(.91 1)" text-anchor="middle">0.2</text>
<text class="n" transform="translate(416.5 727.1) scale(.91 1)" text-anchor="middle">0.4</text>
<text class="n" transform="translate(460.0 727.1) scale(.91 1)" text-anchor="middle">0.6</text>
<text class="n" transform="translate(503.5 727.1) scale(.91 1)" text-anchor="middle">0.8</text>
<text class="n" transform="translate(547.0 727.1) scale(.91 1)" text-anchor="middle">1</text>
<text style="font-size:12.6px" y="746.3"><tspan x="389.9" textLength="17.2" lengthAdjust="spacingAndGlyphs">Dep</tspan><tspan x="410.7" textLength="14.6" lengthAdjust="spacingAndGlyphs">loy</tspan><tspan x="426.2" textLength="25.6" lengthAdjust="spacingAndGlyphs">ment</tspan><tspan x="453.2" textLength="29.2" lengthAdjust="spacingAndGlyphs">degree</tspan></text>
<text class="t" transform="translate(290.5 625.4) rotate(-90)" text-anchor="middle">Axial strains</text>
<text y="767.1"><tspan class="k" x="342.8" dy="-0.6">（</tspan><tspan class="c" x="357.3" dy="0.6">f</tspan><tspan class="k" x="364.0" dy="-0.6">）</tspan><tspan class="c" x="374.8" dy="0.6">Bar CF</tspan></text>
<path class="cv" d="M329.5 577.5C329.6 576.8 329.7 574.8 329.9 573.5C330.1 572.2 330.2 571.1 330.5 570.0C330.8 568.9 331.2 567.8 331.8 566.8C332.4 565.8 333.0 564.9 333.8 563.8C334.6 562.7 335.5 561.2 336.5 560.0C337.5 558.8 338.7 557.5 340.0 556.3C341.3 555.1 342.8 553.9 344.5 552.8C346.2 551.7 348.1 550.5 350.0 549.5C351.9 548.5 353.9 547.6 356.0 546.7C358.1 545.8 360.4 545.0 362.5 544.3C364.6 543.6 366.4 543.0 368.5 542.4C370.6 541.8 372.8 541.3 375.0 540.8C377.2 540.3 379.5 539.8 382.0 539.4C384.5 539.0 387.5 538.5 390.0 538.3C392.5 538.0 394.5 537.9 397.0 537.9C399.5 537.9 402.3 537.9 405.0 538.0C407.7 538.1 409.7 538.3 413.0 538.6C416.3 538.9 421.7 539.4 425.0 539.7C428.3 540.1 429.7 540.2 433.0 540.7C436.3 541.2 441.7 541.9 445.0 542.4C448.3 542.9 450.0 543.2 453.0 543.8C456.0 544.4 459.7 545.1 463.0 545.8C466.3 546.5 469.7 547.2 473.0 548.0C476.3 548.8 479.7 549.5 483.0 550.3C486.3 551.0 489.7 551.8 493.0 552.5C496.3 553.2 499.7 554.0 503.0 554.6C506.3 555.2 510.2 555.8 513.0 556.3C515.8 556.8 517.5 557.0 520.0 557.3C522.5 557.6 525.8 557.9 528.0 558.0C530.2 558.1 531.3 558.2 533.0 558.2C534.7 558.2 536.3 558.1 538.0 558.0C539.7 557.9 541.4 557.8 543.0 557.6C544.6 557.4 546.8 557.1 547.5 557.0"/>
<path class="cv" d="M330.0 632.0C329.9 631.0 329.4 628.0 329.3 626.0C329.2 624.0 329.3 621.6 329.6 620.0C329.9 618.4 330.4 617.3 331.0 616.3C331.6 615.3 332.2 614.5 333.0 613.8C333.8 613.1 334.8 612.5 336.0 612.0C337.2 611.5 338.0 611.1 340.0 610.5C342.0 609.9 345.2 609.0 348.0 608.3C350.8 607.6 353.9 606.8 357.0 606.2C360.1 605.7 363.9 605.2 366.3 605.0C368.7 604.8 369.8 604.8 371.5 604.9C373.2 605.0 374.1 605.1 376.3 605.6C378.6 606.1 382.2 606.8 385.0 607.6C387.8 608.4 390.3 609.2 393.0 610.2C395.7 611.2 398.2 612.4 401.3 613.8C404.4 615.2 408.2 617.2 411.3 618.8C414.4 620.4 417.2 621.9 420.0 623.5C422.8 625.1 425.4 626.8 428.0 628.3C430.6 629.8 432.8 630.9 435.5 632.5C438.2 634.1 441.6 636.2 444.3 638.0C447.1 639.8 449.4 641.3 452.0 643.0C454.6 644.7 457.5 646.7 460.0 648.3C462.5 649.9 464.2 651.0 466.8 652.5C469.4 654.0 472.8 656.0 475.5 657.5C478.2 659.0 480.4 660.0 483.0 661.3C485.6 662.5 488.3 663.8 491.0 665.0C493.7 666.2 497.3 668.0 499.3 668.8C501.3 669.6 501.9 669.6 503.0 669.8C504.1 670.0 504.9 670.2 506.0 670.2C507.1 670.2 508.1 670.0 509.3 669.5C510.5 669.0 511.7 668.4 513.0 667.5C514.3 666.6 515.5 665.4 517.0 664.0C518.5 662.6 520.2 660.9 522.0 659.0C523.8 657.1 526.2 655.0 528.0 652.5C529.8 650.0 531.3 646.8 533.0 643.8C534.7 640.8 536.3 637.5 538.0 634.5C539.7 631.5 541.4 628.3 543.0 625.5C544.6 622.7 546.8 618.8 547.5 617.5" stroke-dasharray="16.0 11.0 26.9 10.1 26.4 11.2 27.8 10.4 26.8 10.0 26.4 10.3 25.5 10.0 30.0 999.0" stroke-dashoffset="0"/>
<path class="cv" d="M329.5 635.0C329.9 634.4 331.1 632.5 332.0 631.5C332.9 630.5 333.9 629.7 335.0 628.8C336.1 627.9 337.2 626.8 338.5 626.0C339.8 625.2 341.1 624.5 342.5 623.8C343.9 623.0 345.3 622.2 347.0 621.5C348.7 620.8 350.6 620.0 352.5 619.5C354.4 619.0 356.4 618.5 358.5 618.2C360.6 617.9 362.9 617.6 365.0 617.5C367.1 617.4 368.9 617.3 371.0 617.3C373.1 617.3 375.3 617.3 377.5 617.5C379.7 617.7 381.9 618.0 384.0 618.3C386.1 618.6 387.8 619.0 390.0 619.5C392.2 620.0 394.5 620.8 397.0 621.5C399.5 622.2 402.3 623.0 405.0 623.8C407.7 624.6 410.5 625.7 413.0 626.5C415.5 627.3 417.9 628.1 420.0 628.8C422.1 629.5 423.4 630.1 425.5 630.8C427.6 631.5 430.4 632.4 432.5 633.0C434.6 633.6 435.9 634.1 438.0 634.5C440.1 634.9 442.9 635.0 445.0 635.2C447.1 635.4 448.0 635.4 450.5 635.5C453.0 635.6 457.1 635.6 460.0 635.6C462.9 635.6 465.3 635.5 468.0 635.5C470.7 635.5 473.5 635.5 476.0 635.4C478.5 635.3 480.8 635.1 483.0 634.8C485.2 634.5 486.9 634.3 489.0 633.8C491.1 633.3 493.6 632.7 495.5 632.0C497.4 631.3 498.8 630.6 500.5 629.6C502.2 628.6 504.0 627.5 505.5 626.3C507.0 625.1 508.2 623.8 509.5 622.3C510.8 620.8 511.8 619.3 513.0 617.5C514.2 615.7 515.8 613.4 517.0 611.3C518.2 609.2 519.3 607.0 520.5 605.0C521.7 603.0 522.8 601.2 524.0 599.3C525.2 597.4 526.5 595.7 528.0 593.8C529.5 591.9 531.3 589.9 533.0 588.0C534.7 586.1 536.3 584.3 538.0 582.5C539.7 580.7 541.4 579.0 543.0 577.3C544.6 575.6 546.8 573.3 547.5 572.5" stroke-dasharray="6 4" stroke-dashoffset="0"/>
<path class="cv" d="M329.5 641.3C330.6 641.4 333.8 641.6 336.0 641.8C338.2 642.0 339.5 642.1 342.5 642.5C345.5 642.9 350.0 643.6 354.0 644.2C358.0 644.8 362.2 645.4 366.3 646.3C370.4 647.2 375.1 648.5 378.8 649.5C382.6 650.5 386.3 651.3 388.8 652.0C391.3 652.7 391.1 652.7 393.8 653.8C396.5 654.9 401.5 657.1 405.0 658.8C408.5 660.5 411.7 662.1 415.0 663.8C418.3 665.5 421.8 667.3 425.0 669.0C428.2 670.7 431.6 672.3 434.3 673.8C437.0 675.3 438.9 676.5 441.0 677.8C443.1 679.0 445.1 680.4 446.8 681.3C448.5 682.2 449.6 682.5 451.0 683.0C452.4 683.5 453.9 683.8 455.5 684.2C457.1 684.6 458.9 685.0 460.5 685.3C462.1 685.6 463.5 685.8 465.0 686.0C466.5 686.2 467.8 686.3 469.3 686.4C470.8 686.5 472.6 686.5 474.0 686.4C475.4 686.3 476.9 686.0 478.0 685.8C479.1 685.6 479.6 685.5 480.5 685.0C481.4 684.5 482.4 684.2 483.5 682.5C484.6 680.8 485.8 676.9 486.8 675.0C487.8 673.1 488.3 673.2 489.3 671.3C490.3 669.4 491.8 666.0 493.0 663.8C494.2 661.6 495.2 660.2 496.5 658.3C497.8 656.4 498.8 654.7 500.5 652.5C502.2 650.3 505.1 647.1 506.8 645.0C508.5 642.9 508.8 642.1 510.5 640.0C512.2 637.9 515.0 634.7 516.8 632.5C518.5 630.3 519.5 628.9 521.0 627.0C522.5 625.1 524.1 623.3 525.5 621.3C526.9 619.3 528.2 617.1 529.3 615.0C530.3 612.9 530.8 611.7 531.8 608.8C532.8 605.9 534.3 600.9 535.5 597.5C536.7 594.1 537.8 591.4 539.0 588.3C540.2 585.2 541.6 581.6 543.0 578.8C544.4 576.0 546.8 572.5 547.5 571.3" stroke-dasharray="13.1 9.2 4.9 10.0 12.9 10.3 5.3 12.3 11.2 8.7 5.5 8.4 14.6 8.3 5.1 8.9 11.4 12.2 4.5 8.4 13.6 9.8 6.2 9.8 14.2 7.4 6.7 11.9 20.2 999.0" stroke-dashoffset="0"/>
<text class="t" x="380.8" y="557.5">1<tspan class="s" dx="0.1" dy="-5.7">st</tspan><tspan class="g" dx="0.6" dy="5.7"> segment</tspan></text>
<text class="t" x="363.7" y="598.8">2<tspan class="s" dx="0.1" dy="-5.7">nd</tspan><tspan class="g" dx="0.6" dy="5.7"> segment</tspan></text>
<text class="t" x="352.4" y="635.0">3<tspan class="s" dx="0.1" dy="-5.7">rd</tspan><tspan class="g" dx="0.6" dy="5.7"> segment</tspan></text>
<text class="t" x="345.9" y="667.0">4<tspan class="s" dx="0.1" dy="-5.7">th</tspan><tspan class="g" dx="0.6" dy="5.7"> segment</tspan></text>
</g>
</svg>
</body></html>
